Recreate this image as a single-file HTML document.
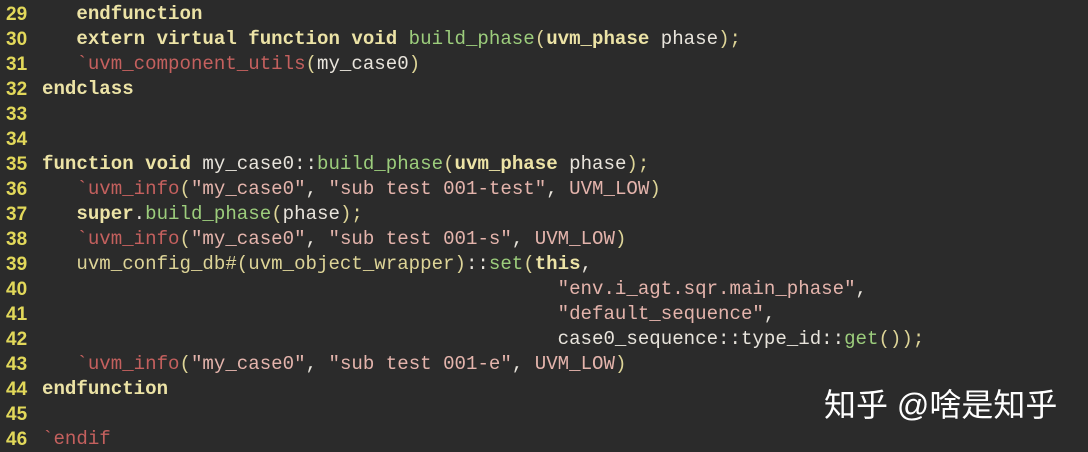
<!DOCTYPE html>
<html><head><meta charset="utf-8"><style>
html,body{margin:0;padding:0}
body{width:1088px;height:452px;background:#2b2b2b;overflow:hidden;position:relative;font-family:"Liberation Mono",monospace;}
.l{position:absolute;left:0;height:25px;line-height:25px;white-space:pre;font-size:19.1px;color:#e8e4dc}
.n{position:absolute;left:6px;width:30px;color:#e2d85a;font-family:"Liberation Sans Narrow","Liberation Sans",sans-serif;font-size:19px;font-weight:bold}
.c{position:absolute;left:42px}
.k{color:#ece3a6;font-weight:bold}
.f{color:#9ccd7c}
.m{color:#c4605e}
.s{color:#e4b4ac}
.y{color:#ddd497}
.w{position:absolute;left:824px;top:385px;color:#fff;font-family:"Liberation Sans","Noto Sans CJK SC",sans-serif;font-size:32px;white-space:nowrap;line-height:40px}
</style></head><body>
<div class="l" style="top:2px"><span class="n">29</span><span class="c">   <span class="k">endfunction</span></span></div>
<div class="l" style="top:27px"><span class="n">30</span><span class="c">   <span class="k">extern virtual function void</span> <span class="f">build_phase</span><span class="y">(</span><span class="k">uvm_phase</span> phase<span class="y">);</span></span></div>
<div class="l" style="top:52px"><span class="n">31</span><span class="c">   <span class="m">`uvm_component_utils</span><span class="y">(</span>my_case0<span class="y">)</span></span></div>
<div class="l" style="top:77px"><span class="n">32</span><span class="c"><span class="k">endclass</span></span></div>
<div class="l" style="top:102px"><span class="n">33</span></div>
<div class="l" style="top:127px"><span class="n">34</span></div>
<div class="l" style="top:152px"><span class="n">35</span><span class="c"><span class="k">function void</span> my_case0::<span class="f">build_phase</span><span class="y">(</span><span class="k">uvm_phase</span> phase<span class="y">);</span></span></div>
<div class="l" style="top:177px"><span class="n">36</span><span class="c">   <span class="m">`uvm_info</span><span class="y">(</span><span class="s">"my_case0"</span>, <span class="s">"sub test 001-test"</span>, <span class="s">UVM_LOW</span><span class="y">)</span></span></div>
<div class="l" style="top:202px"><span class="n">37</span><span class="c">   <span class="k">super</span>.<span class="f">build_phase</span><span class="y">(</span>phase<span class="y">);</span></span></div>
<div class="l" style="top:227px"><span class="n">38</span><span class="c">   <span class="m">`uvm_info</span><span class="y">(</span><span class="s">"my_case0"</span>, <span class="s">"sub test 001-s"</span>, <span class="s">UVM_LOW</span><span class="y">)</span></span></div>
<div class="l" style="top:252px"><span class="n">39</span><span class="c">   <span class="y">uvm_config_db#(uvm_object_wrapper)</span>::<span class="f">set</span><span class="y">(</span><span class="k">this</span>,</span></div>
<div class="l" style="top:277px"><span class="n">40</span><span class="c">                                             <span class="s">"env.i_agt.sqr.main_phase"</span>,</span></div>
<div class="l" style="top:302px"><span class="n">41</span><span class="c">                                             <span class="s">"default_sequence"</span>,</span></div>
<div class="l" style="top:327px"><span class="n">42</span><span class="c">                                             case0_sequence::type_id::<span class="f">get</span><span class="y">());</span></span></div>
<div class="l" style="top:352px"><span class="n">43</span><span class="c">   <span class="m">`uvm_info</span><span class="y">(</span><span class="s">"my_case0"</span>, <span class="s">"sub test 001-e"</span>, <span class="s">UVM_LOW</span><span class="y">)</span></span></div>
<div class="l" style="top:377px"><span class="n">44</span><span class="c"><span class="k">endfunction</span></span></div>
<div class="l" style="top:402px"><span class="n">45</span></div>
<div class="l" style="top:427px"><span class="n">46</span><span class="c"><span class="m">`endif</span></span></div>
<div class="w">知乎 @啥是知乎</div>
</body></html>
